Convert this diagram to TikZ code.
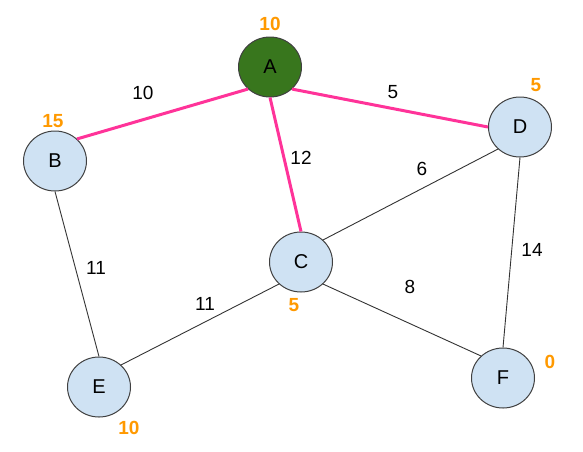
\documentclass[tikz,border=0pt]{standalone}
\usepackage{fontspec}
\setmainfont{Liberation Sans}
\usetikzlibrary{shapes.geometric}
\definecolor{nodefill}{HTML}{CFE2F3}
\definecolor{nodeline}{HTML}{404040}
\definecolor{agreen}{HTML}{38761D}
\definecolor{pinkedge}{HTML}{FF3399}
\definecolor{orangelbl}{HTML}{FF9900}
\tikzset{
  vertex/.style={ellipse, draw=nodeline, line width=1pt, fill=nodefill,
    minimum width=63pt, minimum height=60pt, inner sep=0pt,
    font=\fontsize{20}{22}\selectfont},
  startvertex/.style={vertex, fill=agreen},
  plain/.style={draw=black!80, line width=0.9pt},
  chosen/.style={draw=pinkedge, line width=3pt},
  wlabel/.style={font=\fontsize{19}{22}\selectfont, inner sep=0pt},
  dist/.style={font=\fontsize{19}{22}\selectfont\bfseries, text=orangelbl, inner sep=0pt}
}
\begin{document}
\begin{tikzpicture}[x=1pt,y=-1pt]
\useasboundingbox (0,0) rectangle (583,451);
\node[startvertex] (A) at (270,67) {A};
\node[vertex] (B) at (55,161) {B};
\node[vertex] (C) at (301,262) {C};
\node[vertex] (D) at (520,127) {D};
\node[vertex] (E) at (99,387) {E};
\node[vertex] (F) at (503,378) {F};
\draw[plain] (B.south) -- (E.north);
\draw[plain] (C.225) -- (E.45);
\draw[plain] (C.45) -- (D.225);
\draw[plain] (C.-45) -- (F.135);
\draw[plain] (D.south) -- (F.north);
\draw[chosen] (A.225) -- (B.45);
\draw[chosen] (A.-45) -- (D.west);
\draw[chosen] (A.south) -- (C.north);
\node[wlabel] (wab) at (143,93) {10};
\node[wlabel] (wad) at (393,92) {5};
\node[wlabel] (wac) at (301,158) {12};
\node[wlabel] (wcd) at (422,169) {6};
\node[wlabel] (wdf) at (532,250) {14};
\node[wlabel] (wbe) at (96,268) {11};
\node[wlabel] (wce) at (205,304) {11};
\node[wlabel] (wcf) at (410,287) {8};
\node[dist] (da) at (270,24) {10};
\node[dist] (db) at (53,121) {15};
\node[dist] (dd) at (536,85) {5};
\node[dist] (dc) at (294,305) {5};
\node[dist] (de) at (129,428) {10};
\node[dist] (df) at (550,362) {0};
\end{tikzpicture}
\end{document}
